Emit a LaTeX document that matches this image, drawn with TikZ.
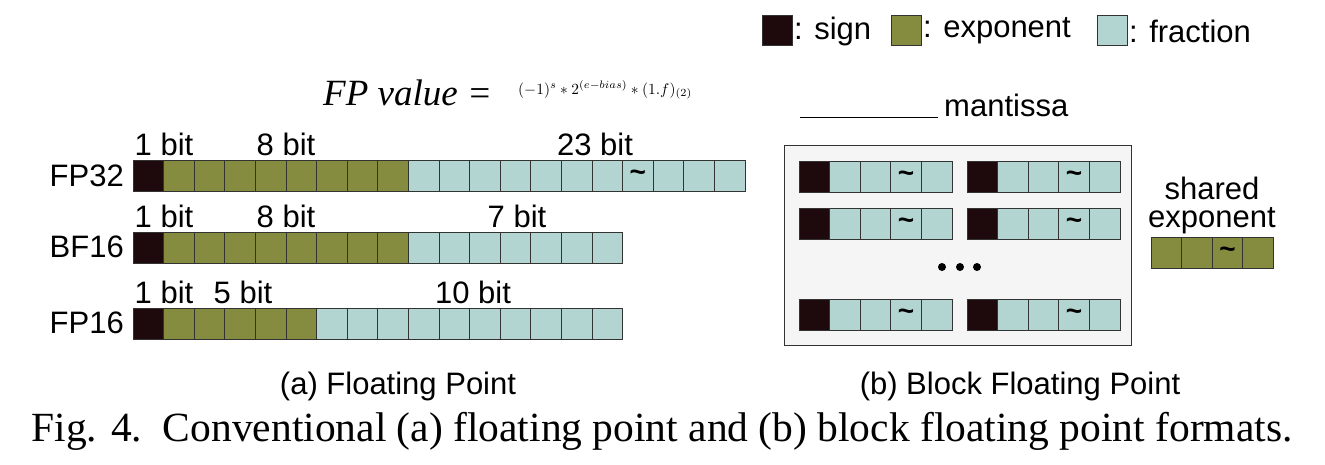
\documentclass[tikz,border=0pt]{standalone}
\usepackage{fontspec}
\setmainfont{Liberation Sans}
\newfontfamily\seriffont{Liberation Serif}
\begin{document}
\begin{tikzpicture}[x=1pt,y=-1pt,
  cell/.style={draw=black!80,line width=0.8pt,minimum width=30.6pt,minimum height=31pt,inner sep=0pt,outer sep=0pt,anchor=north west},
  sg/.style={cell,fill=sgn},ex/.style={cell,fill=expc},fr/.style={cell,fill=frc},
  lab/.style={font=\fontsize{31}{34}\selectfont,inner sep=0pt},
  tl/.style={font=\fontsize{28}{30}\selectfont\bfseries}]
\definecolor{sgn}{HTML}{1E0A0C}
\definecolor{expc}{HTML}{858C40}
\definecolor{frc}{HTML}{B2D5D1}
\useasboundingbox (0,0) rectangle (1325,464);
% legend
\node[sg,minimum width=30pt,minimum height=30pt] (ls) at (762,15) {};
\node[lab,anchor=west] (lst) at (794,31) {: sign};
\node[ex,minimum width=30pt,minimum height=30pt] (le) at (891,15) {};
\node[lab,anchor=west] (let) at (923,31) {: exponent};
\node[fr,minimum width=30pt,minimum height=30pt] (lf) at (1097,15) {};
\node[lab,anchor=west] (lft) at (1129,31) {: fraction};
% formula
\node[inner sep=0pt,anchor=west,font=\seriffont\itshape\fontsize{37}{40}\selectfont] (fpv) at (323,93) {FP value =};
\node[inner sep=0pt,anchor=west] (fml) at (518,90) {\scalebox{1.55}{$(-1)^s * 2^{(e-bias)} * (1.f)_{(2)}$}};
\coordinate (u1) at (800,117); \coordinate (u2) at (938,117);
\draw[line width=0.8pt] (u1) -- (u2);
\node[lab,anchor=west] (man) at (944,105) {mantissa};
% FP32
\node[lab,anchor=east] (n32) at (124,176) {FP32};
\node[sg] (a0) at (133,160) {};
\foreach \i in {1,...,8}{\node[ex] (a\i) at (133+30.6*\i,160) {};}
\foreach \i in {9,...,19}{\node[fr] (a\i) at (133+30.6*\i,160) {};}
\node[tl] at (a16) {\char`\~};
\node[lab] (b1) at (164,144) {1 bit};
\node[lab] (b8) at (286,144) {8 bit};
\node[lab] (b23) at (595,144) {23 bit};
% BF16
\node[lab,anchor=east] (nbf) at (124,247) {BF16};
\node[sg] (c0) at (133,232) {};
\foreach \i in {1,...,8}{\node[ex] (c\i) at (133+30.6*\i,232) {};}
\foreach \i in {9,...,15}{\node[fr] (c\i) at (133+30.6*\i,232) {};}
\node[lab] (d1) at (164,216) {1 bit};
\node[lab] (d8) at (286,216) {8 bit};
\node[lab] (d7) at (517,216) {7 bit};
% FP16
\node[lab,anchor=east] (n16) at (124,323) {FP16};
\node[sg] (e0) at (133,308) {};
\foreach \i in {1,...,5}{\node[ex] (e\i) at (133+30.6*\i,308) {};}
\foreach \i in {6,...,15}{\node[fr] (e\i) at (133+30.6*\i,308) {};}
\node[lab] (f1) at (164,292) {1 bit};
\node[lab] (f5) at (243,292) {5 bit};
\node[lab] (f10) at (473,292) {10 bit};
% block floating point
\node[draw=black!80,line width=0.8pt,fill=black!4,minimum width=347pt,minimum height=200pt,anchor=north west,inner sep=0pt] (box) at (784,145) {};
\foreach \r/\y in {1/161,2/208,3/299}{
  \foreach \s/\x in {L/799,R/967}{
    \node[sg] (m\r\s0) at (\x,\y) {};
    \foreach \i in {1,...,4}{\node[fr] (m\r\s\i) at (\x+30.6*\i,\y) {};}
    \node[tl] at (m\r\s3) {\char`\~};
  }
}
\foreach \x/\n in {942/p1,960/p2,977/p3}{\fill (\x,267) circle (4pt);}
\node[lab] (sh1) at (1212,188) {shared};
\node[lab] (sh2) at (1212,221) {exponent};
\node[ex] (s0) at (1151,237) {};
\foreach \i in {1,...,3}{\node[ex] (s\i) at (1151+30.6*\i,237) {};}
\node[tl] at (s2) {\char`\~};
% captions
\node[lab] (ca) at (398,386) {(a) Floating Point};
\node[lab] (cb) at (1020,386) {(b) Block Floating Point};
\node[inner sep=0pt,font=\seriffont\fontsize{41.5}{44}\selectfont] (fig) at (662,431) {Fig. 4.\ \ Conventional (a) floating point and (b) block floating point formats.};
\end{tikzpicture}
\end{document}
